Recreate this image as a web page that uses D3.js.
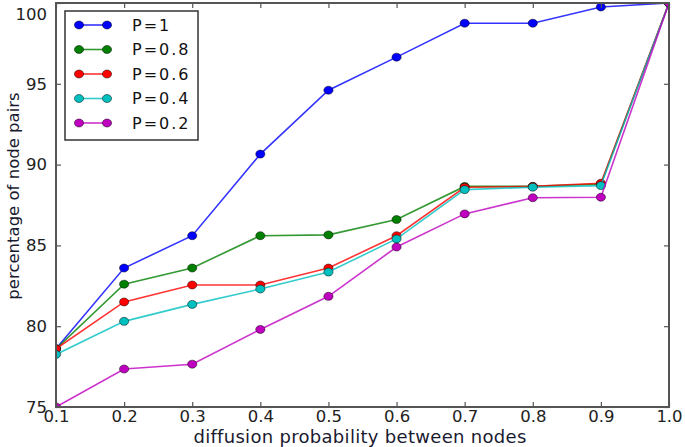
<!DOCTYPE html>
<html>
<head>
<meta charset="utf-8">
<script src="https://cdn.jsdelivr.net/npm/d3@7"></script>
<style>
  body { margin: 0; background: #fff; }
  svg { display: block; font-family: "DejaVu Sans", sans-serif; }
</style>
</head>
<body>
<svg id="chart"></svg>
<script>
// data
var xValues = [0.1, 0.2, 0.3, 0.4, 0.5, 0.6, 0.7, 0.8, 0.9, 1.0];
var p10 = [78.6, 83.6, 85.6, 90.65, 94.6, 96.65, 98.75, 98.75, 99.75, 100];
var p08 = [78.6, 82.6, 83.6, 85.6, 85.65, 86.6, 88.65, 88.65, 88.8, 100];
var p06 = [78.6, 81.5, 82.55, 82.55, 83.6, 85.6, 88.6, 88.65, 88.85, 100];
var p04 = [78.25, 80.3, 81.35, 82.3, 83.35, 85.4, 88.45, 88.6, 88.7, 100];
var p02 = [75.0, 77.35, 77.65, 79.8, 81.85, 84.9, 86.95, 87.95, 87.98, 100];
var seriesNames = ["P=1", "P=0.8", "P=0.6", "P=0.4", "P=0.2"];
var seriesColors = ["#0000ff", "#008000", "#ff0000", "#00bfbf", "#bf00bf"];
var yTicks = [75, 80, 85, 90, 95, 100];
var xTicks = [0.1, 0.2, 0.3, 0.4, 0.5, 0.6, 0.7, 0.8, 0.9, 1.0];

var allSeries = [p10, p08, p06, p04, p02];

var width = 685, height = 447;
var plotLeft = 56, plotTop = 3, plotRight = 669, plotBottom = 407;

var svg = d3.select("#chart")
  .attr("width", width)
  .attr("height", height);

var x = d3.scaleLinear().domain([0.1, 1.0]).range([plotLeft, plotRight]);
var y = d3.scaleLinear().domain([75, 100]).range([plotBottom, plotTop]);

svg.append("defs").append("clipPath")
  .attr("id", "plotclip")
  .append("rect")
  .attr("x", plotLeft).attr("y", plotTop)
  .attr("width", plotRight - plotLeft).attr("height", plotBottom - plotTop);

var plot = svg.append("g").attr("clip-path", "url(#plotclip)");

var line = d3.line()
  .x(function(d, i) { return x(xValues[i]); })
  .y(function(d) { return y(d); });

allSeries.forEach(function(s, k) {
  plot.append("path")
    .datum(s)
    .attr("d", line)
    .attr("fill", "none")
    .attr("stroke", seriesColors[k])
    .attr("stroke-width", 1.6)
    .attr("stroke-opacity", 0.8);

  plot.selectAll(".m" + k)
    .data(s)
    .enter()
    .append("ellipse")
    .attr("cx", function(d, i) { return x(xValues[i]); })
    .attr("cy", function(d) { return y(d); })
    .attr("rx", 4.6)
    .attr("ry", 4)
    .attr("fill", seriesColors[k])
    .attr("stroke", "#000")
    .attr("stroke-opacity", 0.6)
    .attr("stroke-width", 0.8);
});

// axes: ticks inside on all four sides
var axisColor = "#555";
var tickLen = 5;

var bottomAxis = d3.axisBottom(x).tickValues(xTicks).tickSizeInner(-tickLen).tickSizeOuter(0)
  .tickPadding(5).tickFormat(d3.format(".1f"));
var topAxis = d3.axisTop(x).tickValues(xTicks).tickSizeInner(-tickLen).tickSizeOuter(0)
  .tickFormat("");
var leftAxis = d3.axisLeft(y).tickValues(yTicks).tickSizeInner(-tickLen).tickSizeOuter(0)
  .tickPadding(9).tickFormat(d3.format("d"));
var rightAxis = d3.axisRight(y).tickValues(yTicks).tickSizeInner(-tickLen).tickSizeOuter(0)
  .tickFormat("");

function styleAxis(g) {
  g.select(".domain").remove();
  g.selectAll(".tick line").attr("stroke", axisColor).attr("stroke-width", 1.2);
  g.selectAll(".tick text").attr("fill", "#222").attr("font-size", 16.5)
    .attr("font-family", "DejaVu Sans, sans-serif");
}

var gBottom = svg.append("g").attr("transform", "translate(0," + plotBottom + ")").call(bottomAxis).call(styleAxis);
svg.append("g").attr("transform", "translate(0," + plotTop + ")").call(topAxis).call(styleAxis);
var gLeft = svg.append("g").attr("transform", "translate(" + plotLeft + ",0)").call(leftAxis).call(styleAxis);
svg.append("g").attr("transform", "translate(" + plotRight + ",0)").call(rightAxis).call(styleAxis);

gBottom.selectAll(".tick text").attr("dy", "0.6em");

// the top label sits below its tick in the picture
gLeft.selectAll(".tick text").filter(function(d) { return d === 100; }).attr("dy", "1.0em");

svg.append("rect")
  .attr("x", plotLeft).attr("y", plotTop)
  .attr("width", plotRight - plotLeft).attr("height", plotBottom - plotTop)
  .attr("fill", "none")
  .attr("stroke", axisColor)
  .attr("stroke-width", 2);

svg.append("text")
  .attr("x", 360)
  .attr("y", 443)
  .attr("text-anchor", "middle")
  .attr("font-size", 18)
  .attr("letter-spacing", 0.3)
  .attr("fill", "#1a1a30")
  .text("diffusion probability between nodes");

svg.append("text")
  .attr("transform", "translate(19,196) rotate(-90)")
  .attr("text-anchor", "middle")
  .attr("font-size", 16.5)
  .attr("fill", "#1a1a30")
  .text("percentage of node pairs");

// legend
var legend = svg.append("g");
legend.append("rect")
  .attr("x", 65).attr("y", 11)
  .attr("width", 133).attr("height", 129)
  .attr("fill", "#fff")
  .attr("stroke", "#333")
  .attr("stroke-width", 1.5);

var legendY = d3.scalePoint().domain(seriesNames).range([25, 123]);

seriesNames.forEach(function(name, k) {
  var ly = legendY(name);
  legend.append("line")
    .attr("x1", 79).attr("x2", 107)
    .attr("y1", ly).attr("y2", ly)
    .attr("stroke", seriesColors[k])
    .attr("stroke-width", 1.6)
    .attr("stroke-opacity", 0.8);
  [79, 107].forEach(function(cx) {
    legend.append("ellipse")
      .attr("cx", cx).attr("cy", ly)
      .attr("rx", 4.6).attr("ry", 4)
      .attr("fill", seriesColors[k])
      .attr("stroke", "#000")
      .attr("stroke-opacity", 0.6)
      .attr("stroke-width", 0.8);
  });
  legend.append("text")
    .attr("x", 132).attr("y", ly)
    .attr("dy", "0.36em")
    .attr("font-size", 16)
    .attr("letter-spacing", 2)
    .attr("fill", "#111")
    .text(name);
});
</script>
</body>
</html>
